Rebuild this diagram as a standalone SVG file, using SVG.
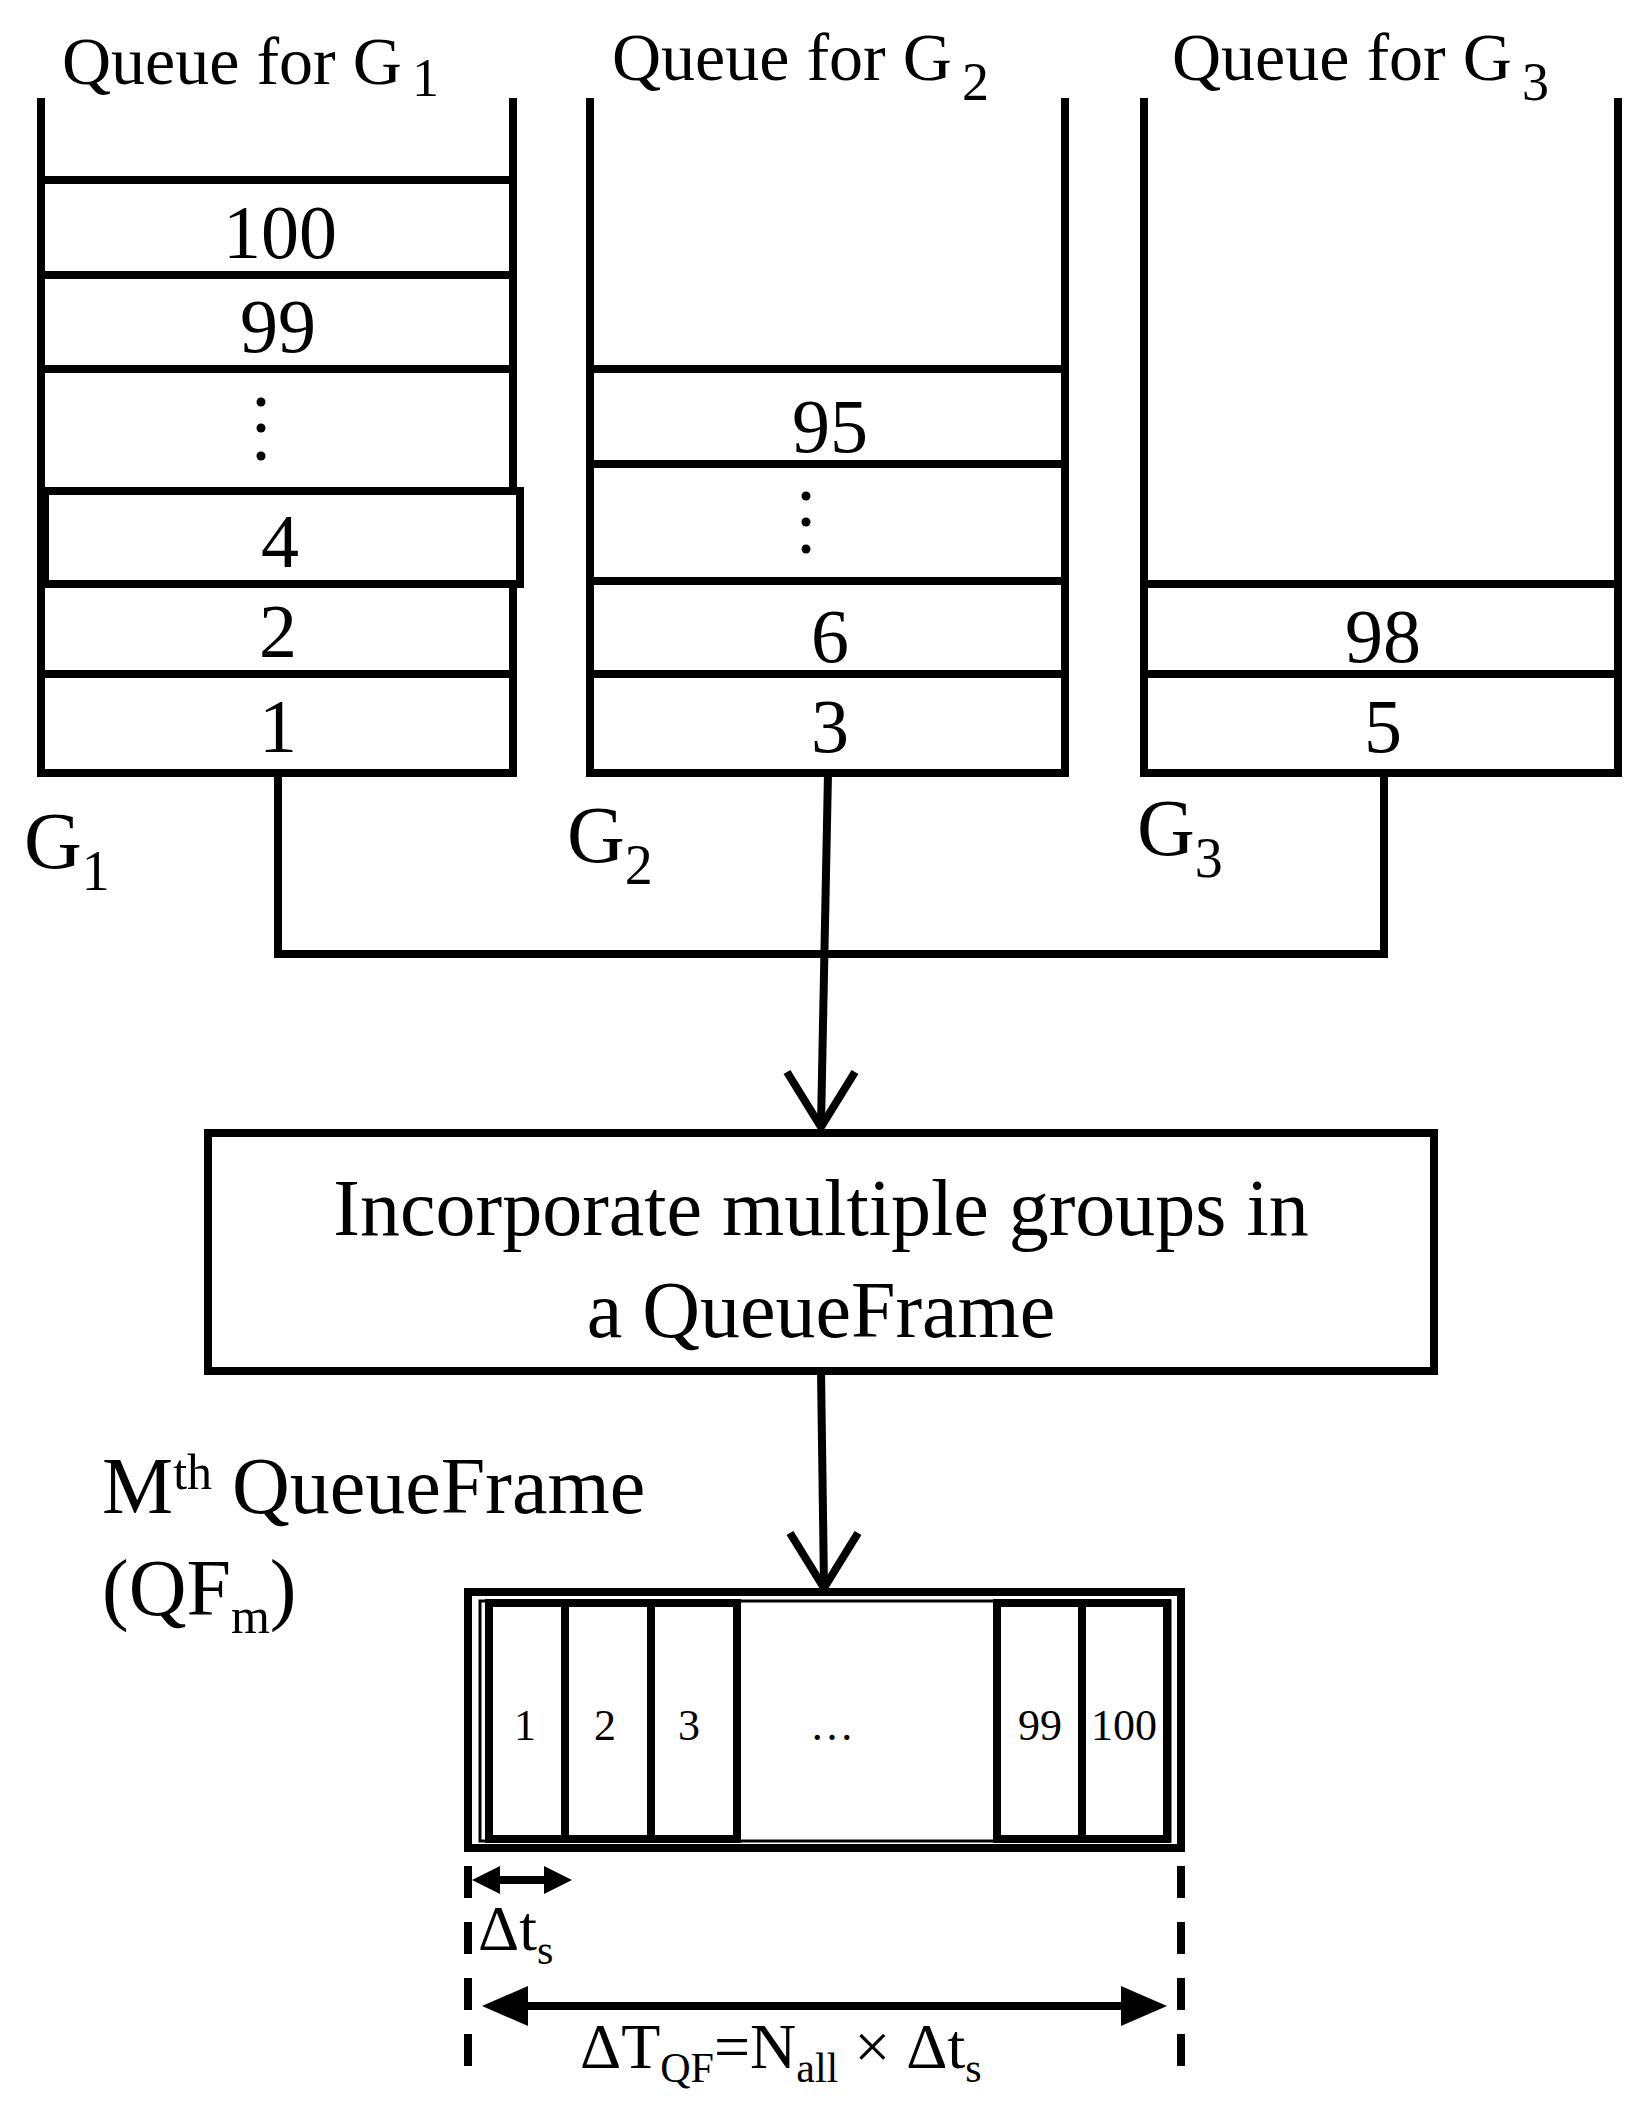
<svg xmlns="http://www.w3.org/2000/svg" width="1650" height="2119" viewBox="0 0 1650 2119">
<style>
text{font-family:"Liberation Serif","Times New Roman",serif;fill:#000}
.s{fill:none;stroke:#000;stroke-width:8}
.c{fill:#fff;stroke:#000;stroke-width:8}
.t{font-size:68px}
.n{font-size:76px;text-anchor:middle}
.m{font-size:44px;text-anchor:middle}
.b{font-size:80px}
.d{stroke:#000;stroke-width:8;stroke-dasharray:32,24}
</style>
<rect width="1650" height="2119" fill="#fff"/>
<g id="queue1">
<text class="t" x="62" y="84">Queue for G<tspan font-size="54" dx="10" dy="12">1</tspan></text>
<polyline class="s" points="41,98 41,773 513,773 513,98"/>
<line class="s" x1="41" y1="180" x2="513" y2="180"/>
<line class="s" x1="41" y1="275" x2="513" y2="275"/>
<line class="s" x1="41" y1="369" x2="513" y2="369"/>
<rect class="c" x="45" y="491" width="475" height="93"/>
<line class="s" x1="41" y1="584" x2="513" y2="584"/>
<line class="s" x1="41" y1="674" x2="513" y2="674"/>
<text class="n" x="280" y="258">100</text>
<text class="n" x="278" y="352">99</text>
<circle cx="261" cy="402" r="4.5"/><circle cx="261" cy="428" r="4.5"/><circle cx="261" cy="456" r="4.5"/>
<text class="n" x="280" y="567">4</text>
<text class="n" x="278" y="657">2</text>
<text class="n" x="278" y="752">1</text>
<text class="b" x="24" y="868">G<tspan font-size="56" dy="22">1</tspan></text>
</g>
<g id="queue2">
<text class="t" x="612" y="80">Queue for G<tspan font-size="54" dx="10" dy="20">2</tspan></text>
<polyline class="s" points="590,98 590,773 1065,773 1065,98"/>
<line class="s" x1="590" y1="369" x2="1065" y2="369"/>
<line class="s" x1="590" y1="464" x2="1065" y2="464"/>
<line class="s" x1="590" y1="581" x2="1065" y2="581"/>
<line class="s" x1="590" y1="674" x2="1065" y2="674"/>
<text class="n" x="830" y="452">95</text>
<circle cx="806" cy="496" r="4.5"/><circle cx="806" cy="522" r="4.5"/><circle cx="806" cy="549" r="4.5"/>
<text class="n" x="830" y="662">6</text>
<text class="n" x="830" y="752">3</text>
<text class="b" x="567" y="862">G<tspan font-size="56" dy="22">2</tspan></text>
</g>
<g id="queue3">
<text class="t" x="1172" y="80">Queue for G<tspan font-size="54" dx="10" dy="20">3</tspan></text>
<polyline class="s" points="1144,98 1144,773 1618,773 1618,98"/>
<line class="s" x1="1144" y1="584" x2="1618" y2="584"/>
<line class="s" x1="1144" y1="674" x2="1618" y2="674"/>
<text class="n" x="1383" y="662">98</text>
<text class="n" x="1383" y="752">5</text>
<text class="b" x="1137" y="855">G<tspan font-size="56" dy="22">3</tspan></text>
</g>
<g id="connectors">
<polyline class="s" points="278,773 278,954 1384,954 1384,773"/>
<line class="s" x1="828" y1="773" x2="821" y2="1125"/>
<polyline class="s" stroke-width="10" points="787,1072 821,1127 855,1072"/>
<line class="s" x1="821" y1="1371" x2="824" y2="1586"/>
<polyline class="s" stroke-width="10" points="790,1533 824,1588 858,1533"/>
</g>
<g id="process">
<rect class="c" x="208" y="1133" width="1226" height="238"/>
<text class="b" x="821" y="1235" text-anchor="middle">Incorporate multiple groups in</text>
<text class="b" x="821" y="1337" text-anchor="middle">a QueueFrame</text>
</g>
<g id="frame-label">
<text class="b" x="102" y="1513">M<tspan font-size="50" dy="-24">th</tspan><tspan dy="24"> QueueFrame</tspan></text>
<text class="b" x="102" y="1615">(QF<tspan font-size="50" dy="18">m</tspan><tspan dy="-18">)</tspan></text>
</g>
<g id="queueframe">
<rect class="c" x="468" y="1592" width="713" height="256"/>
<rect fill="none" stroke="#000" stroke-width="3" x="480" y="1601" width="690" height="240"/>
<rect class="c" x="489" y="1603" width="76" height="236"/>
<rect class="c" x="565" y="1603" width="86" height="236"/>
<rect class="c" x="651" y="1603" width="86" height="236"/>
<rect class="c" x="997" y="1603" width="85" height="236"/>
<rect class="c" x="1082" y="1603" width="85" height="236"/>
<text class="m" x="525" y="1740">1</text>
<text class="m" x="605" y="1740">2</text>
<text class="m" x="689" y="1740">3</text>
<text class="m" x="832" y="1740">…</text>
<text class="m" x="1040" y="1740">99</text>
<text class="m" x="1124" y="1740" font-size="38">100</text>
</g>
<g id="dimensions">
<line class="d" x1="468" y1="1866" x2="468" y2="2080"/>
<line class="d" x1="1181" y1="1866" x2="1181" y2="2080"/>
<line class="s" x1="480" y1="1880" x2="555" y2="1880"/>
<polygon points="472,1880 500,1866 500,1894"/>
<polygon points="572,1880 544,1866 544,1894"/>
<line class="s" x1="510" y1="2006" x2="1140" y2="2006"/>
<polygon points="482,2006 528,1986 528,2026"/>
<polygon points="1167,2006 1121,1986 1121,2026"/>
<text x="478" y="1950" font-size="64">Δt<tspan font-size="42" dy="14">s</tspan></text>
<text x="580" y="2068" font-size="64">ΔT<tspan font-size="42" dy="14">QF</tspan><tspan dy="-14">=N</tspan><tspan font-size="42" dy="14">all</tspan><tspan dy="-14"> × Δt</tspan><tspan font-size="42" dy="14">s</tspan></text>
</g>
</svg>
